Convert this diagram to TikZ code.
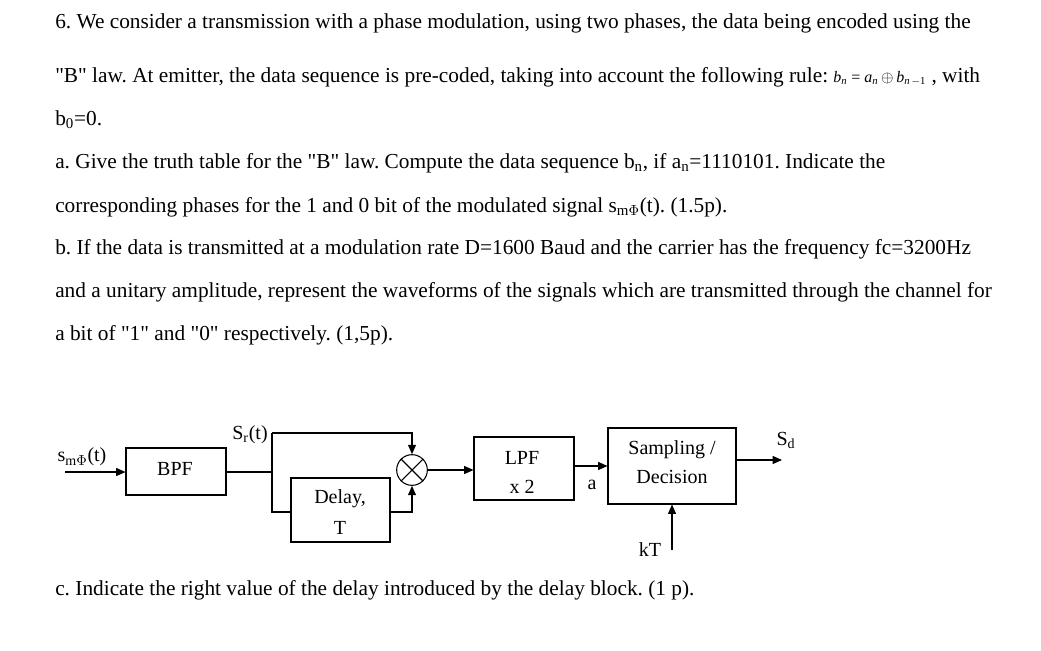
\documentclass[tikz,border=0pt]{standalone}
\usepackage{fontspec}
\setmainfont{Liberation Serif}
\usetikzlibrary{arrows.meta}
\begin{document}
\frenchspacing
\begin{tikzpicture}[x=0.75pt,y=-0.75pt,
  txt/.style={anchor=base west,inner sep=0,font=\fontsize{16}{18}\selectfont},
  lbl/.style={inner sep=0,font=\fontsize{15}{17}\selectfont},
  blk/.style={draw,line width=0.8pt,inner sep=0},
  ar/.style={-{Triangle[length=7pt,width=6pt]},line width=0.8pt},
  ln/.style={line width=0.8pt}]
\useasboundingbox (0,0) rectangle (1041,650);
\node[txt] (l1) at (55,28) {6. We consider a transmission with a phase modulation, using two phases, the data being encoded using the};
\node[txt] (l2) at (55,82) {\textquotedbl B\textquotedbl{} law. At emitter, the data sequence is pre-coded, taking into account the following rule: {\fontsize{12}{14}\selectfont\textit{b}\textsubscript{\textit{n}} = \textit{a}\textsubscript{\textit{n}}\,$\oplus$\,\textit{b}\textsubscript{\textit{n}\,$-$1}} , with};
\node[txt] (l3) at (55,125) {b\textsubscript{0}=0.};
\node[txt] (l4) at (55,168) {a. Give the truth table for the \textquotedbl B\textquotedbl{} law. Compute the data sequence b\textsubscript{n}, if a\textsubscript{n}=1110101. Indicate the};
\node[txt] (l5) at (55,212) {corresponding phases for the 1 and 0 bit of the modulated signal s\textsubscript{m$\Phi$}(t). (1.5p).};
\node[txt] (l6) at (55,254) {b. If the data is transmitted at a modulation rate D=1600 Baud and the carrier has the frequency fc=3200Hz};
\node[txt] (l7) at (55,297) {and a unitary amplitude, represent the waveforms of the signals which are transmitted through the channel for};
\node[txt] (l8) at (55,340) {a bit of \textquotedbl 1\textquotedbl{} and \textquotedbl 0\textquotedbl{} respectively. (1,5p).};
\node[txt] (l9) at (55,595) {c. Indicate the right value of the delay introduced by the delay block. (1 p).};
% diagram
\node[blk,minimum width=75pt,minimum height=35.25pt] (bpf) at (176,471.5) {};
\node[lbl] at (175,469) {BPF};
\node[blk,minimum width=74.25pt,minimum height=48pt] (dly) at (340.5,510) {};
\node[lbl] at (340,499) {Delay,};
\node[lbl] at (340,528) {T};
\node[draw,circle,line width=0.8pt,minimum size=23pt,inner sep=0] (mix) at (412,470) {};
\draw[ln] (mix.north west)--(mix.south east) (mix.north east)--(mix.south west);
\node[blk,minimum width=75pt,minimum height=47.25pt] (lpf) at (524,468.5) {};
\node[lbl] at (522,458) {LPF};
\node[lbl] at (522,487) {x 2};
\node[blk,minimum width=96pt,minimum height=57pt] (smp) at (672,466) {};
\node[lbl] at (672,450) {Sampling /};
\node[lbl] at (672,477) {Decision};
\coordinate (in) at (65,472);
\coordinate (j) at (272,472);
\coordinate (jt) at (272,433);
\coordinate (jb) at (272,512);
\coordinate (out) at (782,460);
\coordinate (kt) at (672,550);
\draw[ar] (in)--(in-|bpf.west);
\node[lbl] at (82,457) {s\textsubscript{m$\Phi$}(t)};
\draw[ln] (j-|bpf.east)--(j);
\draw[ln] (jt)--(jb)--(jb-|dly.west);
\draw[ar] (jt)-|(mix.north);
\draw[ar] (dly.east|-jb)--(412,512)--(mix.south);
\node[lbl] at (250,435) {S\textsubscript{r}(t)};
\draw[ar] (mix.east)--(mix.east-|lpf.west);
\draw[ar] (lpf.east|-0,466)--(smp.west|-0,466);
\node[lbl] at (592,485) {a};
\draw[ar] (smp.east|-out)--(out);
\node[lbl] at (786,440) {S\textsubscript{d}};
\draw[ar] (kt)--(smp.south);
\node[lbl] at (650,550) {kT};
\end{tikzpicture}
\end{document}
